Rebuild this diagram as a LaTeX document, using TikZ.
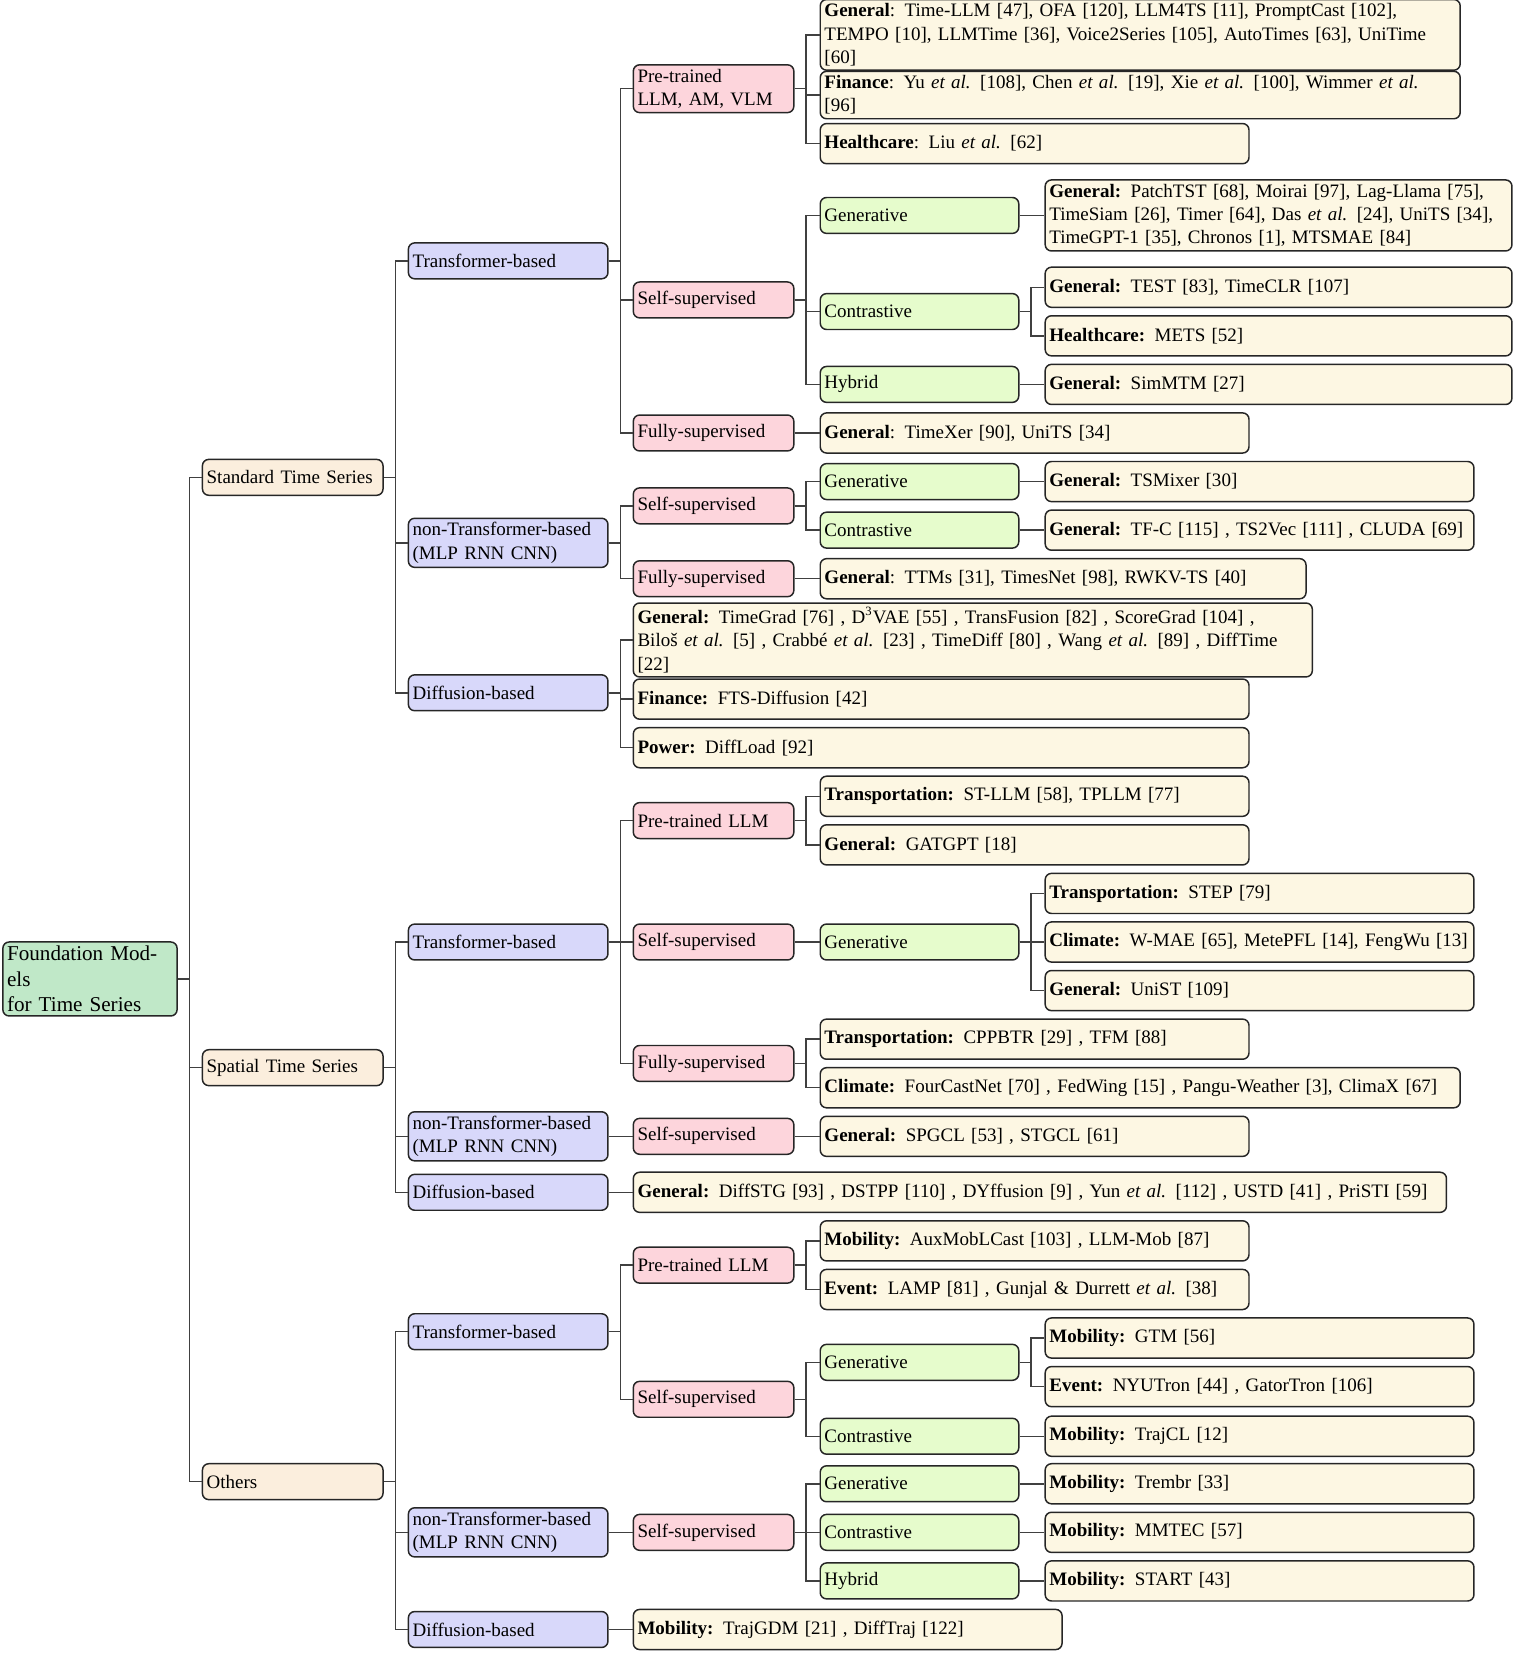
\documentclass[tikz,border=0pt]{standalone}
\usepackage{fontspec}
\setmainfont{Liberation Serif}
\definecolor{cR}{HTML}{C0E8C8}
\definecolor{cA}{HTML}{FBEEDD}
\definecolor{cB}{HTML}{D8D8FA}
\definecolor{cC}{HTML}{FDD5DC}
\definecolor{cD}{HTML}{E6FCCC}
\definecolor{cE}{HTML}{FDF7E3}
\tikzset{
 bxs/.style={draw=black!85, line width=0.7pt, rounded corners=3pt, anchor=west, align=left, inner sep=2pt, font=\fontsize{9}{11}\selectfont, minimum height=17pt},
 rt/.style={bxs, fill=cR, font=\fontsize{10}{12}\selectfont},
 la/.style={bxs, fill=cA},
 lb/.style={bxs, fill=cB},
 lc/.style={bxs, fill=cC},
 ld/.style={bxs, fill=cD},
 le/.style={bxs, fill=cE, minimum height=19pt},
 ed/.style={draw=black!75, line width=0.7pt}
}
\newcommand\bx[6]{\pgfmathsetlengthmacro\tw{#5*0.5pt-4pt}\node[#1, text width=\tw] (#2) at (#3,#4) {#6};}
\newcommand\cn[2]{\foreach \c in {#2} {\draw[ed] (#1.east) -- ++(5.5pt,0) |- (\c.west);}}
\newcommand\ea{\textit{et al.}}
\begin{document}
\begin{tikzpicture}[x=0.5pt,y=-0.5pt]
\useasboundingbox (0,0) rectangle (1436,1570);
% root and L1
\bx{rt}{r}{2}{927}{165}{Foundation Models\\for Time Series}
\bx{la}{S}{191}{452}{171}{Standard Time Series}
\bx{la}{SP}{191}{1011}{171}{Spatial Time Series}
\bx{la}{O}{191}{1403}{171}{Others}
% L2
\bx{lb}{sT}{386}{247}{189}{Transformer-based}
\bx{lb}{sN}{386}{514}{189}{non-Transformer-based\\(MLP RNN CNN)}
\bx{lb}{sD}{386}{656}{189}{Diffusion-based}
\bx{lb}{pT}{386}{892}{189}{Transformer-based}
\bx{lb}{pN}{386}{1076}{189}{non-Transformer-based\\(MLP RNN CNN)}
\bx{lb}{pD}{386}{1129}{189}{Diffusion-based}
\bx{lb}{oT}{386}{1261}{189}{Transformer-based}
\bx{lb}{oN}{386}{1451}{189}{non-Transformer-based\\(MLP RNN CNN)}
\bx{lb}{oD}{386}{1543}{189}{Diffusion-based}
% L3
\bx{lc}{sTpre}{599}{84}{152}{Pre-trained\\LLM, AM, VLM}
\bx{lc}{sTself}{599}{284}{152}{Self-supervised}
\bx{lc}{sTfull}{599}{410}{152}{Fully-supervised}
\bx{lc}{sNself}{599}{479}{152}{Self-supervised}
\bx{lc}{sNfull}{599}{548}{152}{Fully-supervised}
\bx{lc}{pTpre}{599}{777}{152}{Pre-trained LLM}
\bx{lc}{pTself}{599}{892}{152}{Self-supervised}
\bx{lc}{pTfull}{599}{1007}{152}{Fully-supervised}
\bx{lc}{pNself}{599}{1076}{152}{Self-supervised}
\bx{lc}{oTpre}{599}{1198}{152}{Pre-trained LLM}
\bx{lc}{oTself}{599}{1325}{152}{Self-supervised}
\bx{lc}{oNself}{599}{1451}{152}{Self-supervised}
% L4
\bx{ld}{g1}{776}{204}{188}{Generative}
\bx{ld}{c1}{776}{295}{188}{Contrastive}
\bx{ld}{h1}{776}{364}{188}{Hybrid}
\bx{ld}{g2}{776}{456}{188}{Generative}
\bx{ld}{c2}{776}{502}{188}{Contrastive}
\bx{ld}{g3}{776}{892}{188}{Generative}
\bx{ld}{g4}{776}{1290}{188}{Generative}
\bx{ld}{c4}{776}{1360}{188}{Contrastive}
\bx{ld}{g5}{776}{1405}{188}{Generative}
\bx{ld}{c5}{776}{1451}{188}{Contrastive}
\bx{ld}{h5}{776}{1497}{188}{Hybrid}
% leaves standard
\bx{le}{l1}{776}{33}{606}{\textbf{General}: Time-LLM [47], OFA [120], LLM4TS [11], PromptCast [102],\\TEMPO [10], LLMTime [36], Voice2Series [105], AutoTimes [63], UniTime [60]}
\bx{le}{l2}{776}{90}{606}{\textbf{Finance}: Yu \ea{} [108], Chen \ea{} [19], Xie \ea{} [100], Wimmer \ea{} [96]}
\bx{le}{l3}{776}{136}{406}{\textbf{Healthcare}: Liu \ea{} [62]}
\bx{le}{l4}{989}{204}{442}{\textbf{General:} PatchTST [68], Moirai [97], Lag-Llama [75],\\TimeSiam [26], Timer [64], Das \ea{} [24], UniTS [34],\\TimeGPT-1 [35], Chronos [1], MTSMAE [84]}
\bx{le}{l5}{989}{272}{442}{\textbf{General:} TEST [83], TimeCLR [107]}
\bx{le}{l6}{989}{318}{442}{\textbf{Healthcare:} METS [52]}
\bx{le}{l7}{989}{364}{442}{\textbf{General:} SimMTM [27]}
\bx{le}{l8}{776}{410}{406}{\textbf{General}: TimeXer [90], UniTS [34]}
\bx{le}{l9}{989}{456}{406}{\textbf{General:} TSMixer [30]}
\bx{le}{l10}{989}{502}{406}{\textbf{General:} TF-C [115] , TS2Vec [111] , CLUDA [69]}
\bx{le}{l11}{776}{548}{460}{\textbf{General}: TTMs [31], TimesNet [98], RWKV-TS [40]}
\bx{le}{l12}{599}{606}{643}{\textbf{General:} TimeGrad [76] , D\textsuperscript{3}VAE [55] , TransFusion [82] , ScoreGrad [104] ,\\Biloš \ea{} [5] , Crabbé \ea{} [23] , TimeDiff [80] , Wang \ea{} [89] , DiffTime [22]}
\bx{le}{l13}{599}{662}{583}{\textbf{Finance:} FTS-Diffusion [42]}
\bx{le}{l14}{599}{708}{583}{\textbf{Power:} DiffLoad [92]}
% leaves spatial
\bx{le}{m1}{776}{754}{406}{\textbf{Transportation:} ST-LLM [58], TPLLM [77]}
\bx{le}{m2}{776}{800}{406}{\textbf{General:} GATGPT [18]}
\bx{le}{m3}{989}{846}{406}{\textbf{Transportation:} STEP [79]}
\bx{le}{m4}{989}{892}{406}{\textbf{Climate:} W-MAE [65], MetePFL [14], FengWu [13]}
\bx{le}{m5}{989}{938}{406}{\textbf{General:} UniST [109]}
\bx{le}{m6}{776}{984}{406}{\textbf{Transportation:} CPPBTR [29] , TFM [88]}
\bx{le}{m7}{776}{1030}{606}{\textbf{Climate:} FourCastNet [70] , FedWing [15] , Pangu-Weather [3], ClimaX [67]}
\bx{le}{m8}{776}{1076}{406}{\textbf{General:} SPGCL [53] , STGCL [61]}
\bx{le}{m9}{599}{1129}{770}{\textbf{General:} DiffSTG [93] , DSTPP [110] , DYffusion [9] , Yun \ea{} [112] , USTD [41] , PriSTI [59]}
% leaves others
\bx{le}{n1}{776}{1175}{406}{\textbf{Mobility:} AuxMobLCast [103] , LLM-Mob [87]}
\bx{le}{n2}{776}{1221}{406}{\textbf{Event:} LAMP [81] , Gunjal \& Durrett \ea{} [38]}
\bx{le}{n3}{989}{1267}{406}{\textbf{Mobility:} GTM [56]}
\bx{le}{n4}{989}{1313}{406}{\textbf{Event:} NYUTron [44] , GatorTron [106]}
\bx{le}{n5}{989}{1360}{406}{\textbf{Mobility:} TrajCL [12]}
\bx{le}{n6}{989}{1405}{406}{\textbf{Mobility:} Trembr [33]}
\bx{le}{n7}{989}{1451}{406}{\textbf{Mobility:} MMTEC [57]}
\bx{le}{n8}{989}{1497}{406}{\textbf{Mobility:} START [43]}
\bx{le}{n9}{599}{1543}{406}{\textbf{Mobility:} TrajGDM [21] , DiffTraj [122]}
% edges
\cn{r}{S,SP,O}
\cn{S}{sT,sN,sD}
\cn{sT}{sTpre,sTself,sTfull}
\cn{sTpre}{l1,l2,l3}
\cn{sTself}{g1,c1,h1}
\cn{g1}{l4}
\cn{c1}{l5,l6}
\cn{h1}{l7}
\cn{sTfull}{l8}
\cn{sN}{sNself,sNfull}
\cn{sNself}{g2,c2}
\cn{g2}{l9}
\cn{c2}{l10}
\cn{sNfull}{l11}
\cn{sD}{l12,l13,l14}
\cn{SP}{pT,pN,pD}
\cn{pT}{pTpre,pTself,pTfull}
\cn{pTpre}{m1,m2}
\cn{pTself}{g3}
\cn{g3}{m3,m4,m5}
\cn{pTfull}{m6,m7}
\cn{pN}{pNself}
\cn{pNself}{m8}
\cn{pD}{m9}
\cn{O}{oT,oN,oD}
\cn{oT}{oTpre,oTself}
\cn{oTpre}{n1,n2}
\cn{oTself}{g4,c4}
\cn{g4}{n3,n4}
\cn{c4}{n5}
\cn{oN}{oNself}
\cn{oNself}{g5,c5,h5}
\cn{g5}{n6}
\cn{c5}{n7}
\cn{h5}{n8}
\cn{oD}{n9}
\end{tikzpicture}
\end{document}
